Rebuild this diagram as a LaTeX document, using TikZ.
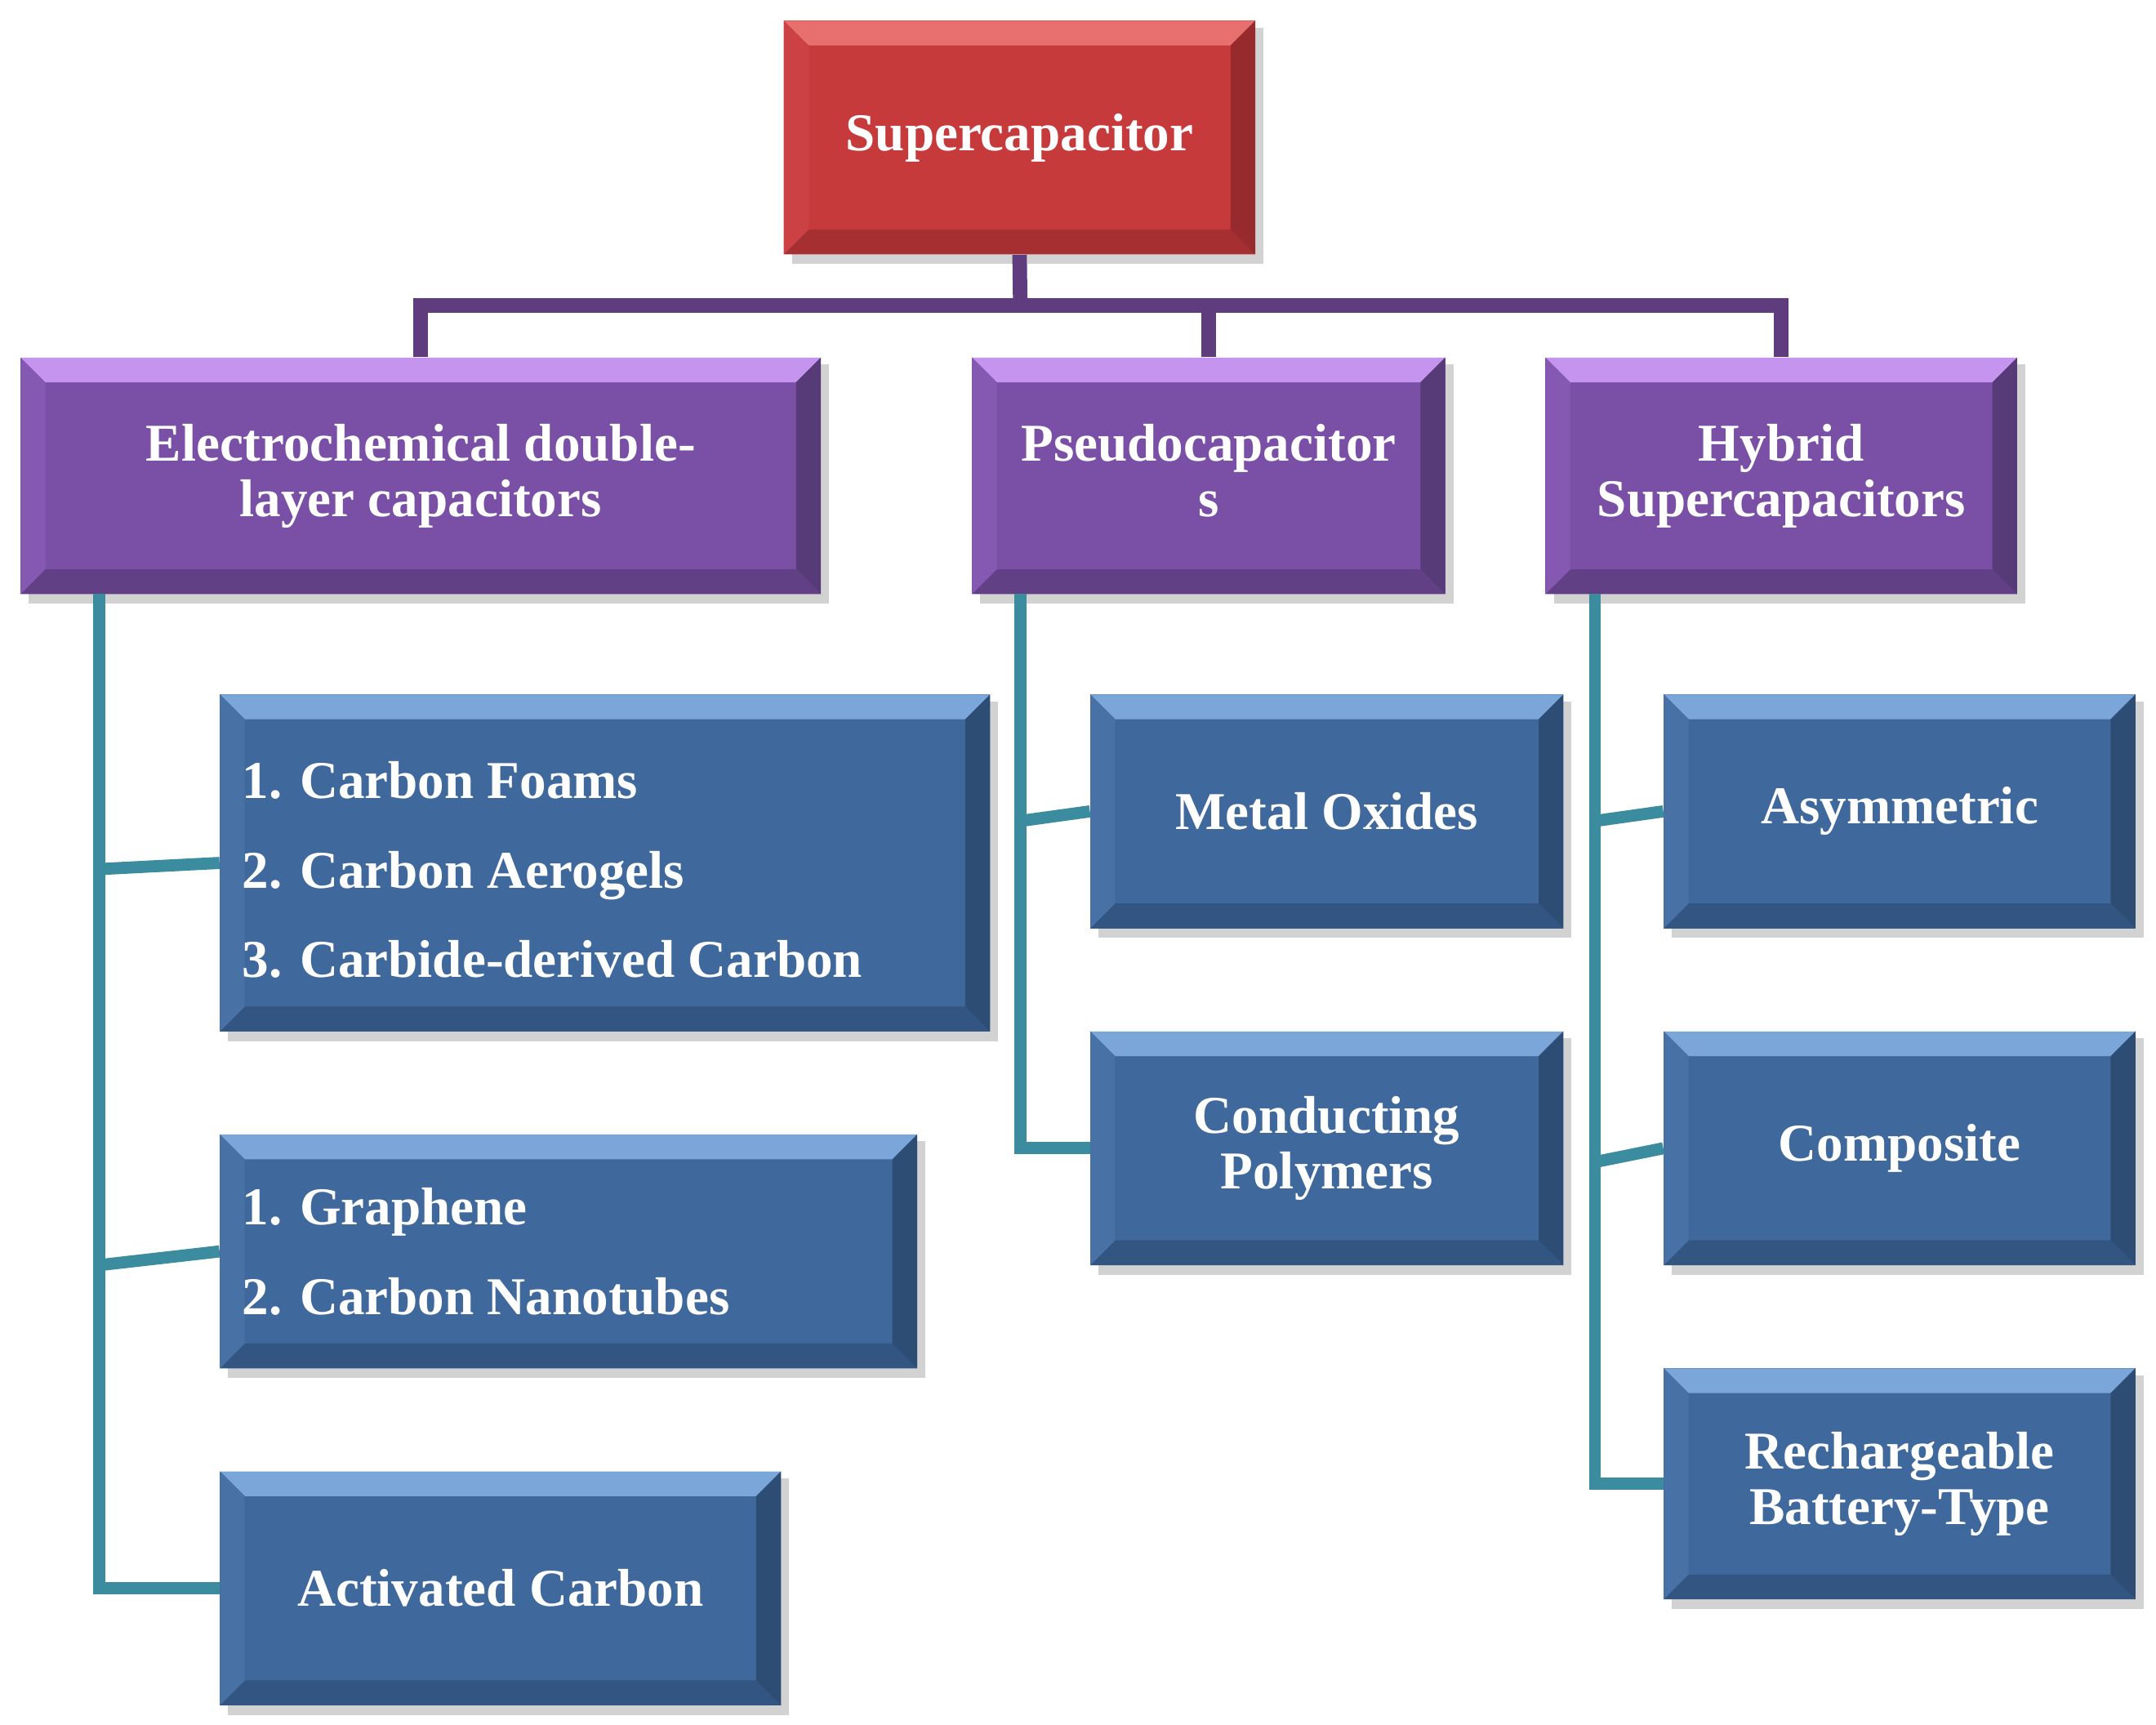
\documentclass[tikz,border=0pt]{standalone}
\usepackage{fontspec}
\setmainfont{Liberation Serif}
\usetikzlibrary{calc}
\definecolor{redb}{HTML}{C73A3C}\definecolor{redt}{HTML}{E7706E}\definecolor{redd}{HTML}{962A2C}
\definecolor{purb}{HTML}{7A4FA6}\definecolor{purt}{HTML}{C594EE}\definecolor{purd}{HTML}{573A78}
\definecolor{blub}{HTML}{3F689C}\definecolor{blut}{HTML}{7BA6DA}\definecolor{blud}{HTML}{2D4D75}
\definecolor{pline}{HTML}{5E3C7E}\definecolor{tline}{HTML}{3A8C9E}
\tikzset{txt/.style={font=\bfseries\fontsize{22}{27}\selectfont,text=white},
 pl/.style={draw=pline,line width=6pt},tl/.style={draw=tline,line width=5pt}}
\newcommand\bev[9]{%
 \fill[black!35,opacity=.5] (#2+0.12,-#5-0.14) rectangle (#4+0.12,-#3-0.1);
 \path[fill=#6] (#2,-#3) rectangle (#4,-#5);
 \fill[#7] (#2,-#3) -- (#4,-#3) -- (#4-0.36,-#3-0.36) -- (#2+0.36,-#3-0.36) -- cycle;
 \fill[#8] (#4,-#3) -- (#4,-#5) -- (#4-0.36,-#5+0.36) -- (#4-0.36,-#3-0.36) -- cycle;
 \fill[#8!70!#6] (#2,-#5) -- (#4,-#5) -- (#4-0.36,-#5+0.36) -- (#2+0.36,-#5+0.36) -- cycle;
 \fill[#6!85!#7] (#2,-#3) -- (#2,-#5) -- (#2+0.36,-#5+0.36) -- (#2+0.36,-#3-0.36) -- cycle;
 \node[txt,inner sep=0,minimum width=#4cm-#2cm,minimum height=#5cm-#3cm] (#1) at ({(#2+#4)/2},{-(#3+#5)/2}) {#9};}
\begin{document}
\begin{tikzpicture}
\useasboundingbox (0,0) rectangle (31.36,-25.08);
% connectors first
\coordinate (j) at (14.84,-4.44);
\bev{sup}{11.4}{0.3}{18.26}{3.7}{redb}{redt}{redd}{Supercapacitor}
\bev{edl}{0.3}{5.2}{11.94}{8.64}{purb}{purt}{purd}{\begin{tabular}{c}Electrochemical double-\\[-4pt]layer capacitors\end{tabular}}
\bev{pse}{14.14}{5.2}{21.02}{8.64}{purb}{purt}{purd}{\begin{tabular}{c}Pseudocapacitor\\[-4pt]s\end{tabular}}
\bev{hyb}{22.48}{5.2}{29.34}{8.64}{purb}{purt}{purd}{\begin{tabular}{c}Hybrid\\[-4pt]Supercapacitors\end{tabular}}
\draw[pl] (sup.south) -- (j);
\draw[pl] (edl.north) ++(0,0) |- (j) -| (hyb.north);
\draw[pl] (pse.north) -- (pse.north|-j);
\bev{cf}{3.2}{10.1}{14.4}{15}{blub}{blut}{blud}{}
\node[txt,anchor=west,align=left] (cft) at (3.4,-12.65) {1. Carbon Foams\\[10pt]2. Carbon Aerogels\\[10pt]3. Carbide-derived Carbon};
\bev{gr}{3.2}{16.5}{13.34}{19.9}{blub}{blut}{blud}{}
\node[txt,anchor=west,align=left] (grt) at (3.4,-18.2) {1. Graphene\\[10pt]2. Carbon Nanotubes};
\bev{ac}{3.2}{21.4}{11.36}{24.8}{blub}{blut}{blud}{Activated Carbon}
\bev{mo}{15.86}{10.1}{22.74}{13.5}{blub}{blut}{blud}{Metal Oxides}
\bev{cp}{15.86}{15}{22.74}{18.4}{blub}{blut}{blud}{\begin{tabular}{c}Conducting\\[-4pt]Polymers\end{tabular}}
\bev{as}{24.2}{10.1}{31.06}{13.5}{blub}{blut}{blud}{Asymmetric}
\bev{co}{24.2}{15}{31.06}{18.4}{blub}{blut}{blud}{Composite}
\bev{rb}{24.2}{19.9}{31.06}{23.26}{blub}{blut}{blud}{\begin{tabular}{c}Rechargeable\\[-4pt]Battery-Type\end{tabular}}
\draw[tl] (1.44,-8.64) |- (ac.west);
\draw[tl] (1.44,-12.64) -- (cf.west);
\draw[tl] (1.44,-18.4) -- (gr.west);
\draw[tl] (14.84,-8.64) |- (cp.west);
\draw[tl] (14.84,-11.94) -- (mo.west);
\draw[tl] (23.2,-8.64) |- (rb.west);
\draw[tl] (23.2,-11.94) -- (as.west);
\draw[tl] (23.2,-16.9) -- (co.west);
\end{tikzpicture}
\end{document}
